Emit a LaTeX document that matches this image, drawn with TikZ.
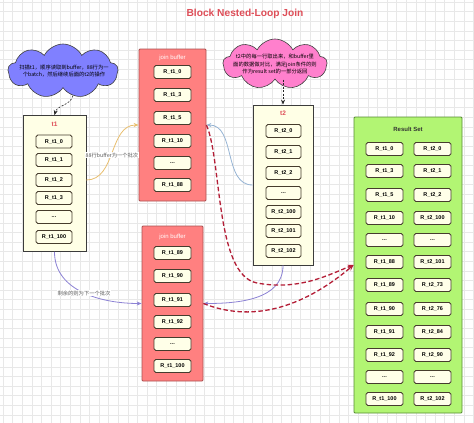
\documentclass[tikz,border=0pt]{standalone}
\usepackage{fontspec}
\setmainfont{Liberation Sans}
\newfontfamily\cjk{Noto Sans CJK SC}
\usetikzlibrary{shapes.symbols,arrows.meta,calc}
\newcommand\mydots{...}
\definecolor{titlered}{RGB}{222,78,88}
\definecolor{bufffill}{RGB}{255,128,128}
\definecolor{buffdraw}{RGB}{170,80,80}
\definecolor{tfill}{RGB}{255,255,230}
\definecolor{tdraw}{RGB}{60,60,60}
\definecolor{resfill}{RGB}{178,245,115}
\definecolor{resdraw}{RGB}{85,140,50}
\definecolor{itemfill}{RGB}{255,255,232}
\definecolor{itemdraw}{RGB}{70,60,45}
\definecolor{cloudblue}{RGB}{128,128,255}
\definecolor{cloudpink}{RGB}{255,128,205}
\definecolor{orangeline}{RGB}{232,190,110}
\definecolor{blueline}{RGB}{150,180,212}
\definecolor{purpleline}{RGB}{140,130,212}
\definecolor{reddash}{RGB}{180,30,55}
\definecolor{gridcol}{RGB}{232,232,232}
\begin{document}
\begin{tikzpicture}[x=1pt,y=-1pt,
  item/.style={draw=itemdraw, fill=itemfill, rounded corners=1.8pt, minimum width=36pt, minimum height=13pt, inner sep=0pt, line width=0.8pt, font=\bfseries\fontsize{5.5}{6}\selectfont},
  tbox/.style={draw=tdraw, fill=tfill, line width=0.8pt, inner sep=0pt},
  bufbox/.style={draw=buffdraw, fill=bufffill, line width=0.8pt, inner sep=0pt, rounded corners=1pt},
  resbox/.style={draw=resdraw, fill=resfill, line width=0.8pt, inner sep=0pt, rounded corners=1pt},
  ttitle/.style={text=titlered, font=\bfseries\fontsize{6.5}{7}\selectfont},
  btitle/.style={text=white, font=\fontsize{6}{7}\selectfont},
  cloudnode/.style={cloud, cloud puffs=9, cloud puff arc=125, cloud ignores aspect, draw=black!75, line width=0.6pt, inner sep=0pt},
  cloudtext/.style={align=center, font=\cjk\fontsize{5.3}{7.5}\selectfont},
  lbl/.style={text=black!65, fill=white, inner sep=0.5pt, font=\cjk\fontsize{5.3}{6}\selectfont},
  tip/.style={-{Stealth[length=5pt,width=4pt]}},
  reddashed/.style={draw=reddash, line width=1.3pt, dash pattern=on 4.5pt off 2.5pt, -{Stealth[length=6pt,width=5pt]}},
]
\useasboundingbox (0,0) rectangle (474,423);
\fill[white] (0,0) rectangle (474,423);
\foreach \i in {0,...,49} \draw[gridcol, line width=0.4pt] (\i*9.6+3,0) -- (\i*9.6+3,423);
\foreach \i in {0,...,44} \draw[gridcol, line width=0.4pt] (0,\i*9.6+2) -- (474,\i*9.6+2);

\node[text=titlered, font=\bfseries\fontsize{10.2}{12}\selectfont] (title) at (245,14) {Block Nested-Loop Join};

% clouds
\node[cloudnode, fill=cloudblue, minimum width=110pt, minimum height=54pt] (cloud1) at (63,71) {};
\node[cloudtext] (c1txt) at (64,71) {扫描t1，顺序读取到buffer，88行为一\\个batch，然后继续后面的t2的操作};
\node[cloudnode, fill=cloudpink, minimum width=104pt, minimum height=50pt] (cloud2) at (275,64) {};
\node[cloudtext] (c2txt) at (275,64) {t2中的每一行取出来，和buffer里\\面的数据做对比，满足join条件的则\\作为result set的一部分返回};

% t1
\node[tbox, minimum width=63pt, minimum height=136pt] (t1) at (54.5,183.5) {};
\node[ttitle] (t1t) at (54.5,124) {t1};
\node[item] (t1a) at (54,141.5) {R\_t1\_0};
\node[item] (t1b) at (54,160) {R\_t1\_1};
\node[item] (t1c) at (54,180) {R\_t1\_2};
\node[item] (t1d) at (54,198) {R\_t1\_3};
\node[item] (t1e) at (54,217) {...};
\node[item] (t1f) at (54,237) {R\_t1\_100};

% join buffer 1
\node[bufbox, minimum width=67pt, minimum height=152pt] (jb1) at (172.5,125) {};
\node[btitle] (jb1t) at (172.5,58) {join buffer};
\node[item, minimum width=37pt] (b1a) at (172.5,72) {R\_t1\_0};
\node[item, minimum width=37pt] (b1b) at (172.5,95) {R\_t1\_3};
\node[item, minimum width=37pt] (b1c) at (172.5,118) {R\_t1\_5};
\node[item, minimum width=37pt] (b1d) at (172.5,141) {R\_t1\_10};
\node[item, minimum width=37pt] (b1e) at (172.5,163) {...};
\node[item, minimum width=37pt] (b1f) at (172.5,185) {R\_t1\_88};

% join buffer 2
\node[bufbox, minimum width=61pt, minimum height=155pt] (jb2) at (172.5,303.5) {};
\node[btitle] (jb2t) at (172.5,237) {join buffer};
\node[item, minimum width=37pt] (b2a) at (172.5,253) {R\_t1\_89};
\node[item, minimum width=37pt] (b2b) at (172.5,276) {R\_t1\_90};
\node[item, minimum width=37pt] (b2c) at (172.5,300) {R\_t1\_91};
\node[item, minimum width=37pt] (b2d) at (172.5,322) {R\_t1\_92};
\node[item, minimum width=37pt] (b2e) at (172.5,344) {...};
\node[item, minimum width=37pt] (b2f) at (172.5,366) {R\_t1\_100};

% t2
\node[tbox, minimum width=60pt, minimum height=160pt] (t2) at (283,185) {};
\node[ttitle] (t2t) at (283,113) {t2};
\node[item, minimum width=35pt] (t2a) at (283.5,131) {R\_t2\_0};
\node[item, minimum width=35pt] (t2b) at (283.5,152) {R\_t2\_1};
\node[item, minimum width=35pt] (t2c) at (283.5,173) {R\_t2\_2};
\node[item, minimum width=35pt] (t2d) at (283.5,193) {...};
\node[item, minimum width=35pt] (t2e) at (283.5,212) {R\_t2\_100};
\node[item, minimum width=35pt] (t2f) at (283.5,231) {R\_t2\_101};
\node[item, minimum width=35pt] (t2g) at (283.5,251) {R\_t2\_102};

% result set
\node[resbox, minimum width=108pt, minimum height=296pt] (res) at (408,265) {};
\node[font=\bfseries\fontsize{6}{7}\selectfont, text=black!80] (rest) at (408,129) {Result Set};
\foreach \y/\l/\r [count=\k] in {149/R\_t1\_0/R\_t2\_0, 171/R\_t1\_3/R\_t2\_1, 195/R\_t1\_5/R\_t2\_2, 218/R\_t1\_10/R\_t2\_100, 240/\mydots/\mydots, 262/R\_t1\_88/R\_t2\_101, 285/R\_t1\_89/R\_t2\_73, 309/R\_t1\_90/R\_t2\_76, 332/R\_t1\_91/R\_t2\_84, 355/R\_t1\_92/R\_t2\_90, 377/\mydots/\mydots, 399/R\_t1\_100/R\_t2\_102} {
  \node[item, minimum width=37pt] (rl\k) at (384.5,\y) {\l};
  \node[item, minimum width=37pt] (rr\k) at (432.5,\y) {\r};
}

% cloud arrows
\draw[black!85, line width=0.6pt, dash pattern=on 2pt off 1.5pt, tip] (cloud1.-68) to[out=-105,in=75] (t1.north);
\draw[black!85, line width=0.6pt, dash pattern=on 2pt off 1.5pt, tip] (t2.north |- cloud2.south) -- (t2.north);

% connectors
\draw[orangeline, line width=0.8pt, tip] (t1.east |- t1c) to[out=0,in=180] (jb1.west);
\node[lbl] (lbl1) at (112,155) {88行buffer为一个批次};
\draw[blueline, line width=0.8pt, tip] (t2.west) to[out=180,in=0] (jb1.east);
\draw[purpleline, line width=0.8pt, tip] (t1.south) to[out=-90,in=180] (jb2.west);
\node[lbl] (lbl2) at (84,293) {剩余的则为下一个批次};
\draw[purpleline, line width=0.8pt, tip] (t2.south) to[out=-90,in=0] (jb2.east);

\draw[reddashed] (jb1.east) .. controls (222,160) and (215,275) .. (257,283) .. controls (300,291) and (330,274) .. (res.west);
\draw[reddashed] (jb2.east) .. controls (250,322) and (300,310) .. (res.west);
\end{tikzpicture}
\end{document}
